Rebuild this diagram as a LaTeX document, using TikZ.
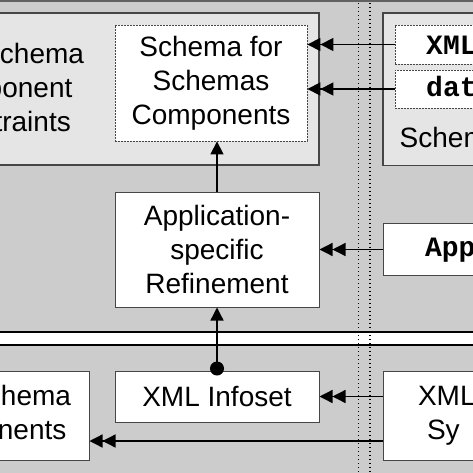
\documentclass[tikz,border=0pt]{standalone}
\usepackage{fontspec}
\setmainfont{Liberation Sans}
\setmonofont{Liberation Mono}
\usetikzlibrary{arrows.meta,calc}
\definecolor{bg}{RGB}{204,204,204}
\definecolor{lt}{RGB}{229,229,229}
\definecolor{edge}{RGB}{70,70,70}
\begin{document}
\begin{tikzpicture}[x=1pt,y=-1pt,
  txt/.style={font=\fontsize{28}{34}\selectfont, align=center},
  mono/.style={font=\fontsize{28}{34}\selectfont\ttfamily\bfseries},
  wbox/.style={draw=edge, line width=1pt, fill=white, inner sep=0pt},
  dbox/.style={wbox, dash pattern=on 2pt off 1pt, line width=0.8pt},
  lbox/.style={draw=edge, line width=1.2pt, fill=lt, inner sep=0pt},
  arr/.style={line width=1.3pt, -{Triangle[length=13pt,width=13pt]}},
  darr/.style={line width=1.3pt, -{Triangle[length=13pt,width=13pt]Triangle[length=13pt,width=13pt]}},
  sep/.style={line width=1.2pt, dash pattern=on 1.2pt off 2.8pt}
]
\useasboundingbox (0,0) rectangle (473,473);
\clip (0,0) rectangle (473,473);
\fill[bg] (0,0) rectangle (473,473);
\fill[black!62] (0,-5) rectangle (473,2);

% layer separator
\fill[white] (-10,332) rectangle (480,345);
\draw[line width=1.3pt] (-10,332) -- (480,332) (-10,345) -- (480,345);

% column separator
\draw[sep] (358.3,-5) -- (358.3,480);
\draw[sep] (370,-5) -- (370,480);

% upper layer
\node[lbox, minimum width=569pt, minimum height=152pt] (bigL) at (34.5,89) {};
\node[txt] (cons) at (0,87) {XML Schema\\Component\\Constraints};
\node[dbox, txt, minimum width=192pt, minimum height=116pt] (ssc) at (211,83) {Schema for\\Schemas\\Components};

\node[lbox, minimum width=317pt, minimum height=152.5pt] (bigR) at (541.5,89.3) {};
\node[dbox, mono, minimum width=295pt, minimum height=39pt, text width=232.6pt, inner xsep=31.2pt, align=left] (xsd) at (542.5,44.5) {XMLSchema.xsd};
\node[dbox, mono, minimum width=295pt, minimum height=38pt, text width=232.6pt, inner xsep=31.2pt, align=left] (dts) at (542.5,89) {datatypes.xsd};
\node[txt, anchor=base west, inner sep=0pt] (sdoc) at (399.5,148) {Schema Documents};

\node[wbox, txt, minimum width=204pt, minimum height=115pt] (app) at (217,249.5) {Application-\\specific\\Refinement};
\node[wbox, mono, minimum width=317pt, minimum height=52pt, text width=233pt, inner xsep=42pt, align=left] (appx) at (541.5,249) {App.xsd};

% lower layer
\node[wbox, txt, minimum width=204pt, minimum height=51pt] (info) at (217,396.5) {XML Infoset};
\node[wbox, txt, minimum width=204pt, minimum height=89pt] (comp) at (-13,415.5) {XML Schema\\Components};
\node[wbox, txt, minimum width=317pt, minimum height=89pt, text width=247pt, inner xsep=35pt, align=left] (syntax) at (541.5,415.5) {XML 1.0\\\hspace*{9pt}Sy};

% connectors
\draw[darr] (xsd.west) -- (xsd.west -| ssc.east);
\draw[darr] (dts.west) -- (dts.west -| ssc.east);
\draw[darr] (appx.west |- app.east) -- (app.east);
\draw[darr] (syntax.west |- info.east) -- (info.east);
\draw[darr] ([yshift=-25.5pt]syntax.west) -- ([yshift=-25.5pt]syntax.west -| comp.east);
\draw[arr] (app.north) -- (app.north |- ssc.south);
\draw[arr] (info.north) -- (app.south);
\fill ([yshift=2pt]info.north) circle (7pt);
\end{tikzpicture}
\end{document}
